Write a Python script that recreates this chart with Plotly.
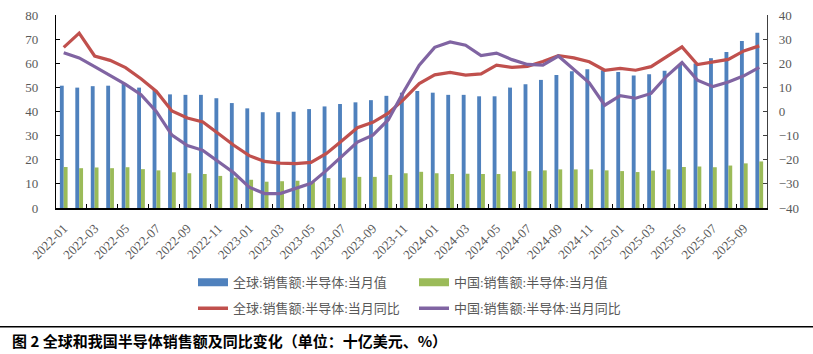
import plotly.graph_objects as go

months = [
    "2022-01", "2022-02", "2022-03", "2022-04", "2022-05", "2022-06", "2022-07", "2022-08",
    "2022-09", "2022-10", "2022-11", "2022-12",
    "2023-01", "2023-02", "2023-03", "2023-04", "2023-05", "2023-06", "2023-07", "2023-08",
    "2023-09", "2023-10", "2023-11", "2023-12",
    "2024-01", "2024-02", "2024-03", "2024-04", "2024-05", "2024-06", "2024-07", "2024-08",
    "2024-09", "2024-10", "2024-11", "2024-12",
    "2025-01", "2025-02", "2025-03", "2025-04", "2025-05", "2025-06", "2025-07", "2025-08",
    "2025-09", "2025-10",
]

global_sales = [
    50.7, 49.9, 50.5, 50.7, 51.5, 49.9, 48.9, 47.1, 46.9, 46.9, 45.5, 43.5,
    41.3, 39.7, 39.7, 39.9, 41.0, 42.1, 43.1, 43.8, 44.7, 46.5, 47.8, 48.5,
    47.8, 46.9, 46.9, 46.3, 46.3, 49.9, 51.3, 53.1, 55.1, 56.7, 57.5, 57.1,
    56.4, 54.9, 55.4, 56.9, 59.3, 59.9, 62.1, 64.7, 69.2, 72.6,
]

china_sales = [
    17.0, 16.5, 16.8, 16.5, 16.9, 16.1, 15.6, 14.8, 14.4, 14.1, 13.3, 12.6,
    11.7, 10.9, 11.1, 11.3, 10.7, 12.4, 12.6, 12.9, 12.9, 13.7, 14.4, 15.0,
    14.4, 14.1, 14.2, 14.1, 14.1, 15.2, 15.3, 15.6, 16.0, 16.0, 16.0, 15.6,
    15.3, 14.9, 15.5, 16.0, 17.0, 17.2, 16.9, 17.6, 18.5, 19.3,
]

global_yoy = [
    26.6, 32.5, 23.0, 21.2, 18.2, 13.6, 8.3, 0.2, -2.7, -4.3, -9.1, -14.0,
    -18.3, -20.7, -21.4, -21.6, -21.1, -17.4, -12.1, -6.7, -4.5, -0.7, 5.0, 11.6,
    15.2, 16.2, 15.1, 15.6, 19.2, 18.3, 18.7, 20.7, 23.2, 22.2, 20.6, 17.1,
    17.9, 17.1, 18.6, 22.6, 26.8, 19.5, 20.6, 21.6, 25.1, 27.2,
]

china_yoy = [
    24.4, 22.2, 18.6, 15.0, 11.2, 7.0, -0.1, -9.8, -14.1, -16.1, -20.7, -25.4,
    -31.4, -34.0, -34.0, -31.8, -29.8, -24.4, -18.7, -12.7, -9.8, -3.4, 8.3, 19.2,
    26.6, 28.8, 27.5, 23.2, 24.2, 21.5, 19.5, 19.2, 23.0, 17.5, 11.9, 2.6,
    6.6, 5.5, 7.5, 14.6, 20.3, 13.0, 10.3, 12.2, 14.8, 18.3,
]

names = [
    "全球:销售额:半导体:当月值",
    "中国:销售额:半导体:当月值",
    "全球:销售额:半导体:当月同比",
    "中国:销售额:半导体:当月同比",
]
colors = ["#4F81BD", "#9BBB59", "#C0504D", "#8064A2"]

W, H = 813, 354
ML, MR, MT, MB = 56, 46, 8, 146
PW = W - ML - MR
PH = H - MT - MB


def px_x(px):
    return (px - ML) / PW


def px_y(py):
    return (H - MB - py) / PH


fig = go.Figure()

fig.add_trace(go.Bar(x=months, y=global_sales, name=names[0], marker=dict(color=colors[0], line_width=0),
                     showlegend=False, yaxis="y"))
fig.add_trace(go.Bar(x=months, y=china_sales, name=names[1], marker=dict(color=colors[1], line_width=0),
                     showlegend=False, yaxis="y"))
fig.add_trace(go.Scatter(x=months, y=global_yoy, name=names[2], mode="lines",
                         line=dict(color=colors[2], width=3.2), showlegend=False, yaxis="y2"))
fig.add_trace(go.Scatter(x=months, y=china_yoy, name=names[3], mode="lines",
                         line=dict(color=colors[3], width=3.2), showlegend=False, yaxis="y2"))

# legend-only entries
leg_ids = ["legend", "legend2", "legend3", "legend4"]
leg_widths = [8, 8, 3.5, 3.5]
for nm, c, lid, lw in zip(names, colors, leg_ids, leg_widths):
    fig.add_trace(go.Scatter(x=[None], y=[None], name=nm, mode="lines",
                             line=dict(color=c, width=lw), legend=lid, showlegend=True,
                             hoverinfo="skip"))

leg_font = dict(family="Liberation Serif, Times New Roman, Noto Sans CJK SC", size=13, color="#595959")
leg_pos = [(193, 285), (414, 285), (193, 312), (414, 312)]
leg_layout = {}
for lid, (lx, ly) in zip(leg_ids, leg_pos):
    leg_layout[lid] = dict(x=px_x(lx), y=px_y(ly), xanchor="left", yanchor="middle",
                           orientation="h", font=leg_font, bgcolor="rgba(0,0,0,0)",
                           borderwidth=0, itemwidth=30)

tick_font = dict(family="Liberation Serif, Times New Roman, serif", size=13, color="#595959")

fig.update_layout(
    width=W, height=H,
    margin=dict(l=ML, r=MR, t=MT, b=MB, pad=0),
    paper_bgcolor="white", plot_bgcolor="white",
    barmode="group", bargap=0.5, bargroupgap=0,
    xaxis=dict(type="category", categoryorder="array", categoryarray=months,
               range=[-0.5, len(months) - 0.5],
               tickmode="linear", tick0=0, dtick=2, tickson="boundaries",
               ticks="inside", ticklen=4, tickcolor="black", tickwidth=1,
               showline=True, linecolor="black", linewidth=1.5,
               showgrid=False, zeroline=False, tickangle=-45, tickfont=tick_font,
               ticklabelstandoff=6),
    yaxis=dict(range=[0, 80], dtick=10, tick0=0, ticks="inside", ticklen=4, tickcolor="black",
               showline=True, linecolor="black", linewidth=1.2, showgrid=False, zeroline=False,
               tickfont=tick_font, ticklabelstandoff=14),
    yaxis2=dict(range=[-40, 40], dtick=10, tick0=-40, overlaying="y", side="right",
                ticks="inside", ticklen=4, tickcolor="#404040",
                showline=True, linecolor="#404040", linewidth=1.2, showgrid=False, zeroline=False,
                tickfont=tick_font, ticklabelstandoff=8),
    showlegend=True,
    **leg_layout,
)

fig.add_shape(type="line", xref="paper", yref="paper",
              x0=px_x(0), x1=px_x(W), y0=px_y(331), y1=px_y(331),
              line=dict(color="black", width=1.5))

fig.add_annotation(text="<b>图 2 全球和我国半导体销售额及同比变化（单位：十亿美元、%）</b>",
                   xref="paper", yref="paper", x=px_x(10), y=px_y(345),
                   xanchor="left", yanchor="middle", showarrow=False,
                   font=dict(family="Noto Sans CJK SC", size=15, color="black"))

fig.write_html("out.html")
